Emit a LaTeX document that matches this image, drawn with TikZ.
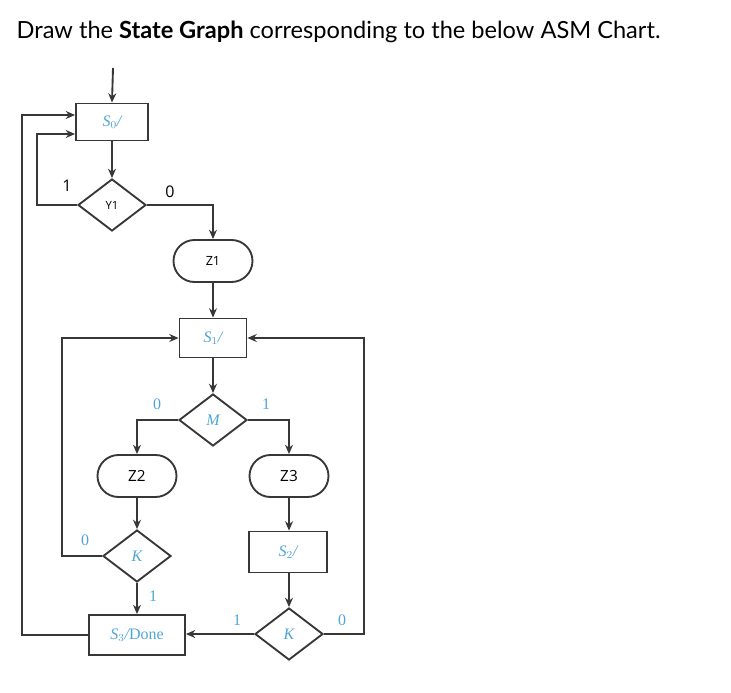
\documentclass[tikz,border=0pt]{standalone}
\usepackage{fontspec}
\setmainfont{Lato}
\newfontfamily\chartsans{Open Sans}
\newfontfamily\chartserif{Liberation Serif}
\usetikzlibrary{shapes.geometric,shapes.misc,arrows.meta}
\definecolor{asmblue}{RGB}{80,165,215}
\definecolor{linegray}{RGB}{55,55,55}
\begin{document}
\begin{tikzpicture}[x=0.75pt,y=-0.75pt,
  line/.style={draw=linegray,line width=1.4pt},
  arr/.style={line,-{Stealth[length=7pt,width=6pt]}},
  statebox/.style={line,rectangle,minimum width=#1*0.75pt,inner sep=0pt},
  decbox/.style={line,diamond,aspect=1.3,minimum width=68*0.75pt,minimum height=52*0.75pt,inner sep=0pt},
  outbox/.style={line,rounded rectangle,minimum width=79*0.75pt,minimum height=42*0.75pt,inner sep=0pt},
  blu/.style={text=asmblue,font=\chartserif\itshape\fontsize{12}{13}\selectfont},
  bnum/.style={text=asmblue,font=\chartserif\fontsize{12}{13}\selectfont},
  snum/.style={font=\chartsans\fontsize{12}{12}\selectfont}]
\useasboundingbox (0,0) rectangle (731,692);
\node[anchor=west,font=\fontsize{17.7}{20}\selectfont] (title) at (12,32) {Draw the \textbf{State Graph} corresponding to the below ASM Chart.};
\coordinate (entry) at (113,68);
\node[statebox=72,minimum height=37*0.75pt,blu] (s0) at (112,122) {S$_0$/};
\node[decbox,font=\chartsans\fontsize{8.5}{10}\selectfont] (y1) at (112,205) {Y1};
\node[outbox,font=\chartsans\fontsize{9.5}{10}\selectfont] (z1) at (213,261) {Z1};
\node[statebox=67,minimum height=39*0.75pt,blu] (s1) at (213,338) {S$_1$/};
\node[decbox,blu] (m) at (213,420) {M};
\node[outbox,font=\chartsans\fontsize{11.5}{12}\selectfont] (z2) at (137,476) {Z2};
\node[outbox,font=\chartsans\fontsize{11.5}{12}\selectfont] (z3) at (289,476) {Z3};
\node[decbox,blu] (k1) at (137,556) {K};
\node[statebox=78,minimum height=41*0.75pt,blu] (s2) at (288,552) {S$_2$/};
\node[decbox,blu] (k2) at (289,634) {K};
\node[statebox=96,minimum height=40*0.75pt,blu] (s3) at (137,635) {S$_3$/\upshape Done};
\draw[arr] (entry) -- (s0.north);
\draw[arr] (s0) -- (y1);
\draw[arr] (y1.west) -- (37,205) -- (37,134) -- (s0.west |- 0,134);
\draw[arr] (y1.east) -| (z1.north);
\draw[arr] (z1) -- (s1);
\draw[arr] (s1) -- (m);
\draw[arr] (m.west) -| (z2.north);
\draw[arr] (m.east) -| (z3.north);
\draw[arr] (z2) -- (k1);
\draw[arr] (z3) -- (s2.north -| z3.south);
\draw[arr] (s2.south -| k2.north) -- (k2);
\draw[arr] (k1) -- (s3);
\draw[arr] (k1.west) -- (62,556) -- (62,338) -- (s1.west);
\draw[arr] (k2.east) -- (364,634) -- (364,338) -- (s1.east);
\draw[arr] (k2.west) -- (s3.east |- k2.west);
\draw[arr] (s3.west) -- (22,635) -- (22,115) -- (s0.west |- 0,115);
\node[snum] (l1) at (67,186) {1};
\node[snum] (l0) at (170,192) {0};
\node[bnum] (m0) at (157,404) {0};
\node[bnum] (m1) at (266,404) {1};
\node[bnum] (k10) at (85,540) {0};
\node[bnum] (k11) at (153,596) {1};
\node[bnum] (k21) at (237,620) {1};
\node[bnum] (k20) at (342,620) {0};
\end{tikzpicture}
\end{document}
